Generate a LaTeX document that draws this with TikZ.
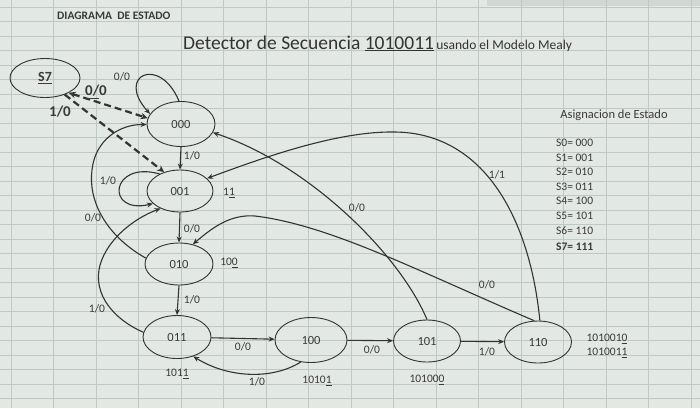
\documentclass[tikz,border=0pt]{standalone}
\usepackage{fontspec}
\setmainfont{Carlito}
\usetikzlibrary{arrows.meta,shapes.geometric}
\definecolor{bgc}{HTML}{E3E8E4}
\definecolor{gridc}{HTML}{BFC9C4}
\definecolor{ink}{HTML}{333333}
\definecolor{txt}{HTML}{3A3A3A}
\definecolor{hdr}{HTML}{D3D7D4}
\begin{document}
\begin{tikzpicture}[x=1pt,y=-1pt,line join=round,
  st/.style={ellipse, draw=ink, line width=0.9pt, inner sep=0pt, text=txt, font=\fontsize{12.5}{14}\selectfont},
  ar/.style={draw=ink, line width=1.1pt, -{Stealth[length=6pt,width=5pt]}},
  dar/.style={draw=ink, line width=2.2pt, dash pattern=on 7pt off 4pt, -{Stealth[length=7pt,width=6.5pt]}},
  lb/.style={text=txt, font=\fontsize{11.5}{13}\selectfont, inner sep=0pt},
  blb/.style={text=txt, font=\fontsize{15}{17}\selectfont\bfseries, inner sep=0pt},
  ls/.style={text=txt, font=\fontsize{11.5}{13}\selectfont, inner sep=0pt, anchor=west},
  gl/.style={draw=gridc, line width=0.6pt}]
\useasboundingbox (0,0) rectangle (700,408);
% spreadsheet background
\fill[bgc] (0,0) rectangle (700,408);
\fill[hdr] (487,0) rectangle (700,6);
\foreach \yy in {7,21.5,...,408} \draw[gl] (0,\yy) -- (700,\yy);
\foreach \xx in {11,53.5,...,700} \draw[gl] (\xx,0) -- (\xx,408);
% headings
\node[anchor=base west, text=txt, inner sep=0pt, font=\fontsize{11.5}{13}\selectfont\bfseries] (hd) at (57,19) {DIAGRAMA\ \ DE ESTADO};
\node[anchor=base west, text=ink, inner sep=0pt] (title) at (183,49)
  {{\fontsize{19.5}{22}\selectfont Detector de Secuencia \underline{1010011}} {\fontsize{13.5}{15}\selectfont usando el Modelo Mealy}};
\node[text=txt, inner sep=0pt, font=\fontsize{12.5}{14}\selectfont] (asg) at (614,115) {Asignacion de Estado};
\node[ls] (l0) at (556,143) {S0= 000};
\node[ls] (l1) at (556,158) {S1= 001};
\node[ls] (l2) at (556,172) {S2= 010};
\node[ls] (l3) at (556,187) {S3= 011};
\node[ls] (l4) at (556,201) {S4= 100};
\node[ls] (l5) at (556,216) {S5= 101};
\node[ls] (l6) at (556,231) {S6= 110};
\node[ls, font=\fontsize{11.5}{13}\selectfont\bfseries] (l7) at (556,247) {S7= 111};
% states
\node[st, minimum width=70pt, minimum height=39pt, font=\fontsize{14}{16}\selectfont\bfseries] (s7) at (45,78) {\underline{S7}};
\node[st, minimum width=68pt, minimum height=45pt] (s0) at (181,124) {000};
\node[st, minimum width=66pt, minimum height=42pt] (s1) at (180,191) {001};
\node[st, minimum width=68pt, minimum height=42pt] (s2) at (179,264) {010};
\node[st, minimum width=68pt, minimum height=43pt] (s3) at (177,337) {011};
\node[st, minimum width=72pt, minimum height=45pt] (s4) at (311,340) {100};
\node[st, minimum width=67pt, minimum height=42pt] (s5) at (427,341) {101};
\node[st, minimum width=67pt, minimum height=42pt] (s6) at (538,342) {110};
% transitions
\draw[dar, {Stealth[length=7pt,width=6.5pt]}-{Stealth[length=7pt,width=6.5pt]}] (s7.-32) -- (s0.170);
\draw[dar] (s7.-40) -- (s1.130);
\draw[ar] (s0.95) .. controls (160,55) and (115,75) .. (s0.162);
\draw[ar] (s0.south) -- (s1.north);
\draw[ar] (s1.140) .. controls (110,160) and (105,215) .. (s1.205);
\draw[ar] (s1.south) -- (s2.north);
\draw[ar] (s2.south) -- (s3.north);
\draw[ar] (s3) -- (s4);
\draw[ar] (s4) -- (s5);
\draw[ar] (s5) -- (s6);
\draw[ar] (s4.245) .. controls (272,380) and (228,378) .. (s3.-50);
\draw[ar] (s2.170) .. controls (105,235) and (88,200) .. (92,170) .. controls (95,140) and (120,124) .. (s0.181);
\draw[ar] (s3.172) .. controls (115,320) and (92,295) .. (100,265) .. controls (108,238) and (135,218) .. (s1.222);
\draw[ar] (s5.north) .. controls (400,255) and (310,165) .. (s0.-15);
\draw[ar] (s6.85) .. controls (530,220) and (485,133) .. (395,132) .. controls (340,131) and (270,155) .. (s1.25);
\draw[ar] (s6.100) .. controls (420,272) and (330,225) .. (255,216) .. controls (230,214) and (212,228) .. (s2.55);
% transition labels
\node[lb] (t1) at (122,77) {0/0};
\node[blb] (t2) at (96,92) {\underline{0/}0};
\node[blb] (t3) at (60,112) {1/0};
\node[lb] (t4) at (192,156) {1/0};
\node[lb] (t5) at (108,181) {1/0};
\node[lb] (t6) at (93,218) {0/0};
\node[lb] (t7) at (192,229) {0/0};
\node[lb] (t8) at (192,300) {1/0};
\node[lb] (t9) at (97,309) {1/0};
\node[lb] (t10) at (243,347) {0/0};
\node[lb] (t11) at (257,382) {1/0};
\node[lb] (t12) at (372,350) {0/0};
\node[lb] (t13) at (487,352) {1/0};
\node[lb] (t14) at (487,285) {0/0};
\node[lb] (t15) at (357,208) {0/0};
\node[lb] (t16) at (497,175) {1/1};
% sequence notes
\node[lb] (n1) at (229,193) {1\underline{1}};
\node[lb] (n2) at (229,263) {10\underline{0}};
\node[lb] (n3) at (177,374) {101\underline{1}};
\node[lb] (n4) at (317,381) {1010\underline{1}};
\node[lb] (n5) at (427,380) {10100\underline{0}};
\node[lb] (n6) at (607,339) {101001\underline{0}};
\node[lb] (n7) at (607,353) {101001\underline{1}};
\end{tikzpicture}
\end{document}
